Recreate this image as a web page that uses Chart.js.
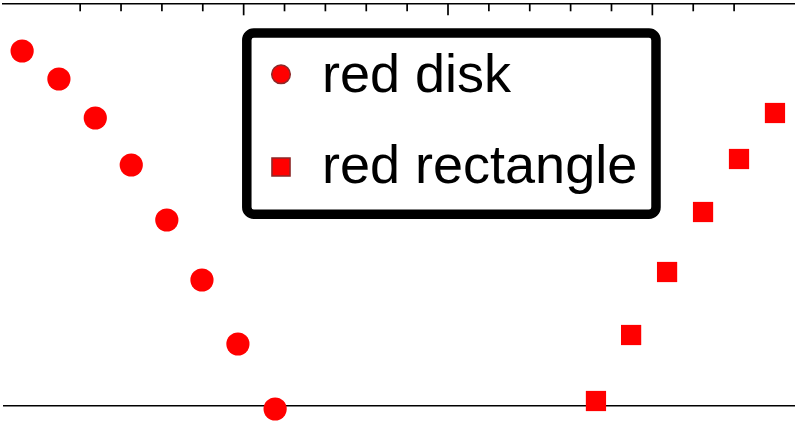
<!DOCTYPE html>
<html>
<head>
<meta charset="utf-8">
<script src="https://cdn.jsdelivr.net/npm/chart.js@4.4.1/dist/chart.umd.min.js"></script>
<style>
  html, body { margin: 0; padding: 0; background: #ffffff; }
  #wrap { position: relative; width: 795px; height: 425px; }
</style>
</head>
<body>
<div id="wrap"><canvas id="c"></canvas></div>
<script>
// ---- data ----
const seriesLabels = ['red disk', 'red rectangle'];
const diskX = [-0.42, 0.48, 1.37, 2.25, 3.12, 3.98, 4.86, 5.77];
const diskY = [3.55, 3.27, 2.88, 2.41, 1.86, 1.26, 0.62, -0.03];
const rectX = [13.62, 14.48, 15.36, 16.24, 17.12, 18.0];
const rectY = [0.05, 0.71, 1.34, 1.94, 2.47, 2.93];
const xRange = [-0.888, 18.49];
const yRange = [-0.19, 4.027];
const majorEvery = 5;

const toPoints = (xs, ys) => xs.map((x, i) => ({ x: x, y: ys[i] }));

// inward tick marks on the top axis, from the scale's own ticks
const innerTicks = {
  id: 'innerTicks',
  afterDraw(chart) {
    const sc = chart.scales.x;
    const ctx = chart.ctx;
    const top = chart.chartArea.top;
    ctx.save();
    ctx.strokeStyle = '#000';
    ctx.lineWidth = 1.7;
    sc.ticks.forEach(t => {
      const v = t.value;
      if (Math.abs(v - Math.round(v)) > 1e-6) return;
      const px = sc.getPixelForValue(v);
      const len = (Math.round(v) % majorEvery === 0) ? 12 : 8;
      ctx.beginPath();
      ctx.moveTo(px, top);
      ctx.lineTo(px, top + len);
      ctx.stroke();
    });
    ctx.restore();
  }
};

// boxed legend inside the plot area, built from the datasets
const boxLegend = {
  id: 'boxLegend',
  afterDraw(chart) {
    const ctx = chart.ctx;
    const b = { l: 246.8, t: 33, r: 656, btm: 214.3, rad: 7, lw: 9.5 };
    ctx.save();
    ctx.fillStyle = '#fff';
    ctx.strokeStyle = '#000';
    ctx.lineWidth = b.lw;
    ctx.beginPath();
    ctx.roundRect(b.l, b.t, b.r - b.l, b.btm - b.t, b.rad);
    ctx.fill();
    ctx.stroke();
    ctx.font = '54px "Liberation Sans", Arial, sans-serif';
    ctx.textBaseline = 'alphabetic';
    ctx.textAlign = 'left';
    const rows = [{ my: 74.3, ty: 92 }, { my: 167, ty: 183 }];
    chart.data.datasets.forEach((ds, i) => {
      const r = rows[i];
      ctx.fillStyle = ds.backgroundColor;
      ctx.strokeStyle = '#8c2a2a';
      ctx.lineWidth = 1.5;
      Chart.helpers.drawPoint(ctx, {
        pointStyle: ds.pointStyle,
        radius: ds.pointStyle === 'rect' ? 12.8 : 9.3,
        borderWidth: 1.5,
        rotation: 0
      }, 281, r.my);
      ctx.fillStyle = '#000';
      ctx.fillText(ds.label, 322, r.ty);
    });
    ctx.restore();
  }
};

new Chart(document.getElementById('c'), {
  type: 'scatter',
  data: {
    datasets: [
      {
        label: seriesLabels[0],
        data: toPoints(diskX, diskY),
        pointStyle: 'circle',
        pointRadius: 11.6,
        pointHoverRadius: 11.6,
        borderWidth: 0,
        pointBorderWidth: 0,
        backgroundColor: '#ff0000',
        pointBackgroundColor: '#ff0000',
        clip: false
      },
      {
        label: seriesLabels[1],
        data: toPoints(rectX, rectY),
        pointStyle: 'rect',
        pointRadius: 14.3,
        pointHoverRadius: 14.3,
        borderWidth: 0,
        pointBorderWidth: 0,
        backgroundColor: '#ff0000',
        pointBackgroundColor: '#ff0000',
        clip: false
      }
    ]
  },
  options: {
    responsive: true,
    maintainAspectRatio: false,
    devicePixelRatio: 1,
    animation: false,
    layout: { autoPadding: false, padding: { top: 3.3, left: 3, right: 0, bottom: 0 } },
    plugins: {
      legend: { display: false },
      tooltip: { enabled: false },
      title: { display: false }
    },
    scales: {
      x: {
        type: 'linear',
        position: 'top',
        min: xRange[0],
        max: xRange[1],
        ticks: { display: false, stepSize: 1 },
        grid: { drawOnChartArea: false, drawTicks: false },
        border: { display: true, color: '#000', width: 1.5 }
      },
      y: {
        type: 'linear',
        min: yRange[0],
        max: yRange[1],
        ticks: { display: false, stepSize: 1 },
        grid: {
          drawTicks: false,
          color: c => (c.tick && Math.abs(c.tick.value) < 1e-9) ? '#000' : 'rgba(0,0,0,0)',
          lineWidth: 1.5
        },
        border: { display: false }
      }
    }
  },
  plugins: [innerTicks, boxLegend]
});
</script>
</body>
</html>
